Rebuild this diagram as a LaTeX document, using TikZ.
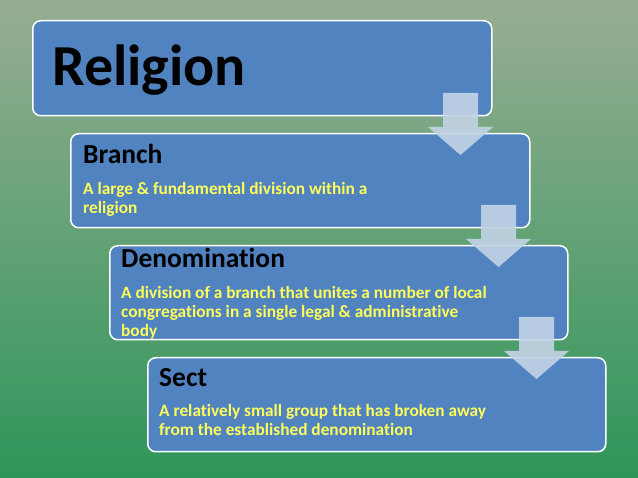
\documentclass[tikz,border=0pt]{standalone}
\usepackage{fontspec}
\setmainfont{Carlito}[Ligatures={NoCommon}]
\definecolor{bgtop}{HTML}{97AD92}
\definecolor{bgbot}{HTML}{2E9659}
\definecolor{boxblue}{HTML}{5183C0}
\definecolor{arrowc}{HTML}{C3D3E6}
\definecolor{yel}{HTML}{FFFF5A}
\tikzset{
  lvl/.style={draw=white, line width=1.5pt, fill=boxblue, rounded corners=8pt},
  head/.style={anchor=base west, font=\bfseries\fontsize{27.5}{30}\selectfont, text=black, inner sep=0},
  body/.style={anchor=north west, font=\bfseries\fontsize{17.3}{19}\selectfont, text=yel, inner sep=0, align=left},
  darrow/.style={fill=arrowc, fill opacity=0.9, draw=none}
}
\begin{document}
\begin{tikzpicture}[x=1pt,y=-1pt]
\shade[top color=bgtop, bottom color=bgbot] (0,0) rectangle (638,478);
\useasboundingbox (0,0) rectangle (638,478);
\node[lvl, minimum width=459, minimum height=95, anchor=north west] (r) at (32,20) {};
\node[anchor=base west, inner sep=0, font=\bfseries\fontsize{58}{60}\selectfont] (rt) at (52,86) {Religion};
\node[lvl, minimum width=459, minimum height=94, anchor=north west] (b) at (70,133) {};
\node[head] (bt) at (83,164) {Branch};
\node[body] (bb) at (83,182) {A large \& fundamental division within a\\religion};
\node[lvl, minimum width=458, minimum height=94, anchor=north west] (d) at (109,245) {};
\node[head] (dt) at (121,268) {Denomination};
\node[body] (db) at (121,286) {A division of a branch that unites a number of local\\congregations in a single legal \& administrative\\body};
\node[lvl, minimum width=458, minimum height=94, anchor=north west] (s) at (147,357) {};
\node[head] (st) at (159,387) {Sect};
\node[body] (sb) at (159,404) {A relatively small group that has broken away\\from the established denomination};
\foreach \x/\y in {443/93, 481/205, 519/317}{
  \fill[darrow] (\x,\y) -- (\x+35,\y) -- (\x+35,\y+34) -- (\x+50,\y+34) -- (\x+17.5,\y+62) -- (\x-15,\y+34) -- (\x,\y+34) -- cycle;
}
\end{tikzpicture}
\end{document}
